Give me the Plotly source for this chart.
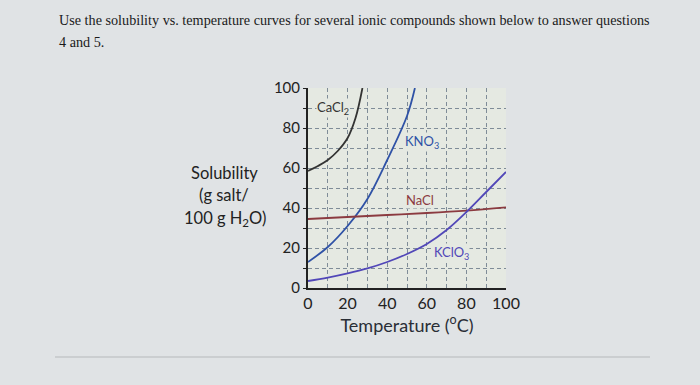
import plotly.graph_objects as go

# ---- data ----
cacl2_t = [0, 5, 10, 15, 20, 24, 27.5]
cacl2_s = [58.5, 61, 64, 68.5, 75, 85, 100]

kno3_t = [0, 10, 20, 30, 40, 50, 54]
kno3_s = [13, 20.5, 31, 44.5, 64, 86, 100]

nacl_t = [0, 20, 40, 60, 80, 100]
nacl_s = [34.5, 35.5, 36.5, 37.5, 38.7, 40.3]

kclo3_t = [0, 10, 20, 30, 40, 50, 60, 70, 80, 90, 100]
kclo3_s = [3.5, 5.2, 7.3, 9.8, 13, 17, 22, 29, 38, 48, 58]

x_ticks = [0, 20, 40, 60, 80, 100]
y_ticks = [0, 20, 40, 60, 80, 100]

series_names = ["CaCl<sub>2</sub>", "KNO<sub>3</sub>", "NaCl", "KClO<sub>3</sub>"]
colors = ["#333333", "#2f52a6", "#8b3a40", "#5147b8"]

question_1 = "Use the solubility vs. temperature curves for several ionic compounds shown below to answer questions"
question_2 = "4 and 5."
y_title_lines = ["Solubility", "(g salt/", "100 g H<sub>2</sub>O)"]

PLOT_BG = "#e5e9e2"
PAPER_BG = "#e0e3e5"
GRID = "#7f8c98"

L, R, T, B = 308, 506, 88, 288  # plot area pixels


def px(x):
    return (x - L) / (R - L)


def py(y):
    return (B - y) / (B - T)


fig = go.Figure()
for t, s, c in zip([cacl2_t, kno3_t, nacl_t, kclo3_t],
                   [cacl2_s, kno3_s, nacl_s, kclo3_s], colors):
    fig.add_trace(go.Scatter(x=t, y=s, mode="lines",
                             line=dict(color=c, width=1.8, shape="spline"),
                             showlegend=False, hoverinfo="skip"))

# curve labels
label_pos = [(12.6, 90), (57.6, 73), (56.6, 44), (72.5, 17.5)]
for name, (lx, ly), c in zip(series_names, label_pos, colors):
    fig.add_annotation(x=lx, y=ly, text=name, showarrow=False,
                       font=dict(family="Lato", size=13, color=c),
                       bgcolor=PLOT_BG, borderpad=0)

# y title lines
for txt, (cx, cy) in zip(y_title_lines, [(224, 173), (224, 195), (225, 218)]):
    fig.add_annotation(xref="paper", yref="paper", x=px(cx), y=py(cy),
                       text=txt, showarrow=False, xanchor="center", yanchor="middle",
                       borderpad=0,
                       font=dict(family="Lato", size=16.5, color="#222222"))

# question text
fig.add_annotation(xref="paper", yref="paper", x=px(57), y=py(20),
                   text=question_1, showarrow=False, xanchor="left", yanchor="middle",
                   font=dict(family="Liberation Serif", size=14.2, color="#1a1a1a"))
fig.add_annotation(xref="paper", yref="paper", x=px(57), y=py(42),
                   text=question_2, showarrow=False, xanchor="left", yanchor="middle",
                   font=dict(family="Liberation Serif", size=14.2, color="#1a1a1a"))

# faint separator line at bottom
fig.add_shape(type="line", xref="paper", yref="paper",
              x0=px(55), x1=px(650), y0=py(357), y1=py(357),
              line=dict(color="#c4c7c9", width=1.5))

fig.update_layout(
    width=700, height=385,
    margin=dict(l=L, r=700 - R, t=T, b=385 - B),
    paper_bgcolor=PAPER_BG, plot_bgcolor=PLOT_BG,
    font=dict(family="Lato", color="#222222"),
    xaxis=dict(range=[0, 100], tickvals=x_ticks, ticktext=[str(v) for v in x_ticks],
               showgrid=True, gridcolor=GRID, griddash="4px,3px", gridwidth=1,
               minor=dict(dtick=10, showgrid=True, gridcolor=GRID, griddash="4px,3px"),
               showline=True, linecolor="#222222", linewidth=2,
               ticks="", tickfont=dict(size=16, color="#222222"),
               title=dict(text="Temperature (<sup>o</sup>C)", font=dict(size=18, color="#2a2e36"), standoff=4),
               zeroline=False, fixedrange=True),
    yaxis=dict(range=[0, 100], tickvals=y_ticks, ticktext=[str(v) for v in y_ticks],
               showgrid=True, gridcolor=GRID, griddash="4px,3px", gridwidth=1,
               minor=dict(dtick=10, showgrid=True, gridcolor=GRID, griddash="4px,3px",
                          ticks="outside", ticklen=3, tickcolor="#222222"),
               showline=True, linecolor="#222222", linewidth=2,
               ticks="outside", ticklen=3, tickcolor="#222222",
               tickfont=dict(size=15, color="#222222"),
               zeroline=False, fixedrange=True),
)

fig.write_html("out.html", config={"displayModeBar": False},
               post_script="document.body.style.margin='0';document.body.style.background='%s';" % PAPER_BG)
